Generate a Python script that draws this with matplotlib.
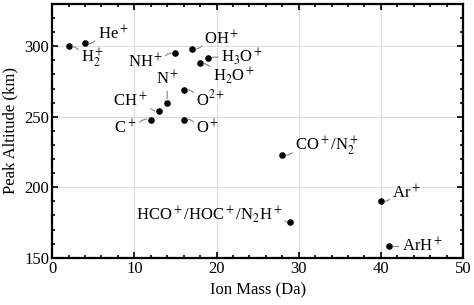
import matplotlib
matplotlib.use("Agg")
import matplotlib.pyplot as plt
from matplotlib.ticker import MultipleLocator

# ion mass (Da) and peak altitude (km)
ions = ["H$_2^+$", "He$^+$", "NH$^+$", "OH$^+$", "H$_3$O$^+$", "H$_2$O$^+$",
        "N$^+$", "O$^{2+}$", "CH$^+$", "C$^+$", "O$^+$", "CO$^+$/N$_2^+$",
        "HCO$^+$/HOC$^+$/N$_2$H$^+$", "Ar$^+$", "ArH$^+$"]
mass = [2, 4, 15, 17, 19, 18, 14, 16, 13, 12, 16, 28, 29, 40, 41]
altitude = [300, 302, 295, 298, 292, 288, 260, 269, 254, 248, 248, 223, 175, 190, 158]

# label offsets in points (dx, dy), alignment, curve
offsets = [(9, -8.5, "left", 0.5), (9, 6.5, "left", -0.5), (-9, -6.5, "right", -0.5),
           (9, 7.5, "left", -0.5), (9, 0.5, "left", 0), (9, -9, "left", 0.5),
           (0, 17, "center", 0), (9, -6.5, "left", 0.5), (-8, 7, "right", 0.5),
           (-10, -6.5, "right", -0.5), (9, -6, "left", 0.5), (9, 6, "left", -0.5),
           (-6, 6, "right", 0.5), (8, 6, "left", -0.5), (9, 0, "left", 0)]

plt.rcParams["font.family"] = ["Liberation Serif", "DejaVu Serif"]
plt.rcParams["mathtext.fontset"] = "stix"
plt.rcParams["font.size"] = 12

fig, ax = plt.subplots(figsize=(4.74, 3.05), dpi=100)
fig.subplots_adjust(left=0.11, right=0.977, top=0.987, bottom=0.155)

ax.scatter(mass, altitude, s=14, color="black", zorder=3)

for name, x, y, (dx, dy, ha, rad) in zip(ions, mass, altitude, offsets):
    if ha == "left":
        rp = (0, 0.5)
    elif ha == "right":
        rp = (1, 0.5)
    else:
        rp = (0.5, 0)
    ax.annotate(name, (x, y), xytext=(dx, dy), textcoords="offset points",
                ha=ha, va="center", fontsize=12,
                arrowprops=dict(arrowstyle="-", color="#909090", lw=0.9,
                                relpos=rp, shrinkA=0, shrinkB=3,
                                connectionstyle="arc3,rad=%s" % rad))

ax.set_xlim(0, 50)
ax.set_ylim(150, 330)
ax.xaxis.set_major_locator(MultipleLocator(10))
ax.xaxis.set_minor_locator(MultipleLocator(2))
ax.yaxis.set_major_locator(MultipleLocator(50))
ax.yaxis.set_minor_locator(MultipleLocator(10))
ax.tick_params(which="both", direction="in", top=True, right=True, width=1.2,
               labelsize=12)
ax.tick_params(which="major", length=4, pad=2)
ax.tick_params(which="minor", length=2.5)
ax.grid(True, which="major", color="#dddddd", lw=0.8)
ax.set_axisbelow(True)
for s in ax.spines.values():
    s.set_linewidth(1.6)

ax.set_xlabel("Ion Mass (Da)", fontsize=12)
ax.set_ylabel("Peak Altitude (km)", fontsize=12)

fig.savefig("out.png", dpi=100)
